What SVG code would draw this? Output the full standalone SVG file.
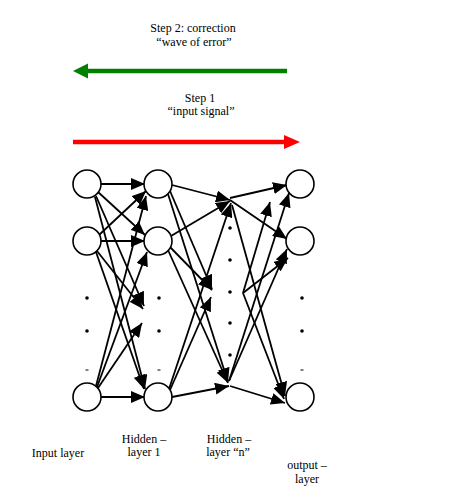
<svg xmlns="http://www.w3.org/2000/svg" width="458" height="496" viewBox="0 0 458 496">
<style>
.t{font-family:"Liberation Serif","Times New Roman",serif;font-size:12px;fill:#000;text-anchor:middle}
.n{fill:#fff;stroke:#000;stroke-width:1.6}
.c line{stroke:#000;stroke-width:1.8}
.d{fill:#000}
</style>
<defs>
<marker id="ah" markerUnits="userSpaceOnUse" markerWidth="14" markerHeight="12" refX="14" refY="6" orient="auto">
<path d="M0,0 L14,6 L0,12 z" fill="#000"/>
</marker>
</defs>
<rect width="458" height="496" fill="#fff"/>
<g id="signal-arrows">
<line x1="287" y1="71" x2="86" y2="71" stroke="#008000" stroke-width="4.5"/>
<path d="M73,71 L88,63.5 L88,78.5 z" fill="#008000"/>
<line x1="73" y1="142" x2="286" y2="142" stroke="#ff0000" stroke-width="4.5"/>
<path d="M300,142 L284,135 L284,149 z" fill="#ff0000"/>
</g>
<g id="labels-top">
<text class="t" x="193" y="32">Step 2: correction</text>
<text class="t" x="194" y="46">“wave of error”</text>
<text class="t" x="200" y="102">Step 1</text>
<text class="t" x="201" y="115">“input signal”</text>
</g>
<g id="connectors" class="c">
<line x1="101" y1="184" x2="145" y2="184" marker-end="url(#ah)"/>
<line x1="98" y1="192" x2="145" y2="235" marker-end="url(#ah)"/>
<line x1="96" y1="196" x2="144" y2="306" marker-end="url(#ah)"/>
<line x1="95" y1="197" x2="145" y2="389" marker-end="url(#ah)"/>
<line x1="101" y1="241" x2="145" y2="241" marker-end="url(#ah)"/>
<line x1="99" y1="235" x2="146" y2="191" marker-end="url(#ah)"/>
<line x1="97" y1="251" x2="143" y2="309" marker-end="url(#ah)"/>
<line x1="96" y1="252" x2="144" y2="389" marker-end="url(#ah)"/>
<line x1="101" y1="397" x2="145" y2="397" marker-end="url(#ah)"/>
<line x1="96" y1="386" x2="146" y2="196" marker-end="url(#ah)"/>
<line x1="97" y1="387" x2="147" y2="252" marker-end="url(#ah)"/>
<line x1="98" y1="388" x2="142" y2="323" marker-end="url(#ah)"/>
<line x1="172" y1="185" x2="230" y2="200" marker-end="url(#ah)"/>
<line x1="170" y1="191" x2="212" y2="289" marker-end="url(#ah)"/>
<line x1="168" y1="194" x2="228" y2="382" marker-end="url(#ah)"/>
<line x1="171" y1="236" x2="230" y2="201" marker-end="url(#ah)"/>
<line x1="170" y1="247" x2="212" y2="290" marker-end="url(#ah)"/>
<line x1="168" y1="250" x2="228" y2="383" marker-end="url(#ah)"/>
<line x1="172" y1="397" x2="229" y2="386" marker-end="url(#ah)"/>
<line x1="169" y1="389" x2="231" y2="203" marker-end="url(#ah)"/>
<line x1="170" y1="390" x2="211" y2="297" marker-end="url(#ah)"/>
<line x1="230" y1="198" x2="287" y2="185" marker-end="url(#ah)"/>
<line x1="230" y1="200" x2="287" y2="239" marker-end="url(#ah)"/>
<line x1="232" y1="205" x2="285" y2="396" marker-end="url(#ah)"/>
<line x1="243" y1="293" x2="270" y2="202" marker-end="url(#ah)"/>
<line x1="243" y1="293" x2="288" y2="258" marker-end="url(#ah)"/>
<line x1="243" y1="293" x2="284" y2="399" marker-end="url(#ah)"/>
<line x1="229" y1="381" x2="289" y2="193" marker-end="url(#ah)"/>
<line x1="229" y1="381" x2="287" y2="249" marker-end="url(#ah)"/>
<line x1="230" y1="386" x2="285" y2="403" marker-end="url(#ah)"/>
</g>
<g id="input-1"><circle class="n" cx="87" cy="184" r="14"/></g>
<g id="input-2"><circle class="n" cx="87" cy="241" r="14"/></g>
<g id="input-3"><circle class="n" cx="87" cy="397" r="14"/></g>
<g id="input-dots"><circle class="d" cx="87" cy="298" r="1.8"/><circle class="d" cx="87" cy="331" r="1.8"/><rect class="d" x="85.5" y="369.5" width="3" height="1"/></g>
<g id="hidden1-1"><circle class="n" cx="158" cy="184" r="14"/></g>
<g id="hidden1-2"><circle class="n" cx="158" cy="241" r="14"/></g>
<g id="hidden1-3"><circle class="n" cx="158" cy="397" r="14"/></g>
<g id="hidden1-dots"><circle class="d" cx="159" cy="298" r="1.8"/><circle class="d" cx="159" cy="331" r="1.8"/><rect class="d" x="157.5" y="369.5" width="3" height="1"/></g>
<g id="hiddenn-dots"><circle class="d" cx="230" cy="228" r="1.8"/><circle class="d" cx="230" cy="260" r="1.8"/><circle class="d" cx="230" cy="292" r="1.8"/><circle class="d" cx="230" cy="323" r="1.8"/><circle class="d" cx="230" cy="355" r="1.8"/></g>
<g id="output-1"><circle class="n" cx="300" cy="184" r="14"/></g>
<g id="output-2"><circle class="n" cx="300" cy="241" r="14"/></g>
<g id="output-3"><circle class="n" cx="300" cy="397" r="14"/></g>
<g id="output-dots"><circle class="d" cx="302" cy="298" r="1.8"/><circle class="d" cx="302" cy="331" r="1.8"/><rect class="d" x="300.5" y="369.5" width="3" height="1"/></g>
<g id="labels-bottom">
<text class="t" x="58" y="457">Input layer</text>
<text class="t" x="144" y="443">Hidden –</text>
<text class="t" x="144" y="456">layer 1</text>
<text class="t" x="229" y="443">Hidden –</text>
<text class="t" x="228" y="456">layer “n”</text>
<text class="t" x="307" y="469">output –</text>
<text class="t" x="307" y="483">layer</text>
</g>
</svg>
